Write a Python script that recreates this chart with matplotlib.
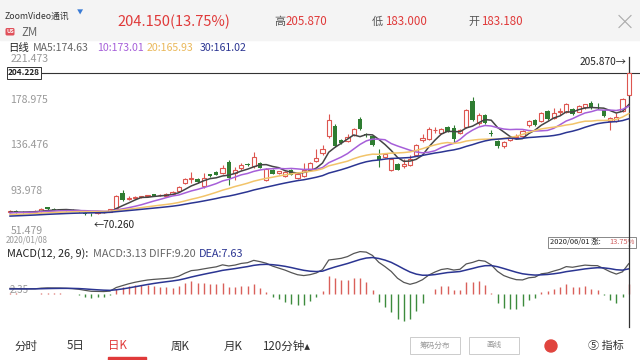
import numpy as np
import pandas as pd
import matplotlib
matplotlib.use('Agg')
import matplotlib.pyplot as plt
from matplotlib.patches import Rectangle, FancyBboxPatch, Circle

plt.rcParams['font.family'] = ['Noto Sans CJK SC', 'DejaVu Sans']

# daily candles, 2020/01/08 .. 2020/06/01
opens = [74.3, 75.4, 74.6, 74.0, 74.8, 74.9, 78.6, 77.4, 77.0, 76.5,
         76.3, 76.0, 73.4, 72.6, 73.2, 74.0, 74.8, 77.8, 92.0, 86.6,
         87.3, 88.4, 89.1, 91.0, 89.8, 89.4, 91.2, 94.3, 101.3, 104.8,
         105.0, 98.3, 109.6, 111.8, 110.8, 121.5, 110.8, 115.0, 119.6, 117.0,
         120.2, 104.6, 114.0, 110.4, 107.6, 113.9, 106.0, 107.6, 113.2, 122.0,
         129.5, 145.0, 154.5, 141.4, 141.0, 146.5, 160.8, 147.0, 145.2, 126.5,
         125.3, 114.0, 119.0, 116.9, 118.5, 127.8, 141.7, 142.5, 150.6, 148.0,
         154.0, 152.4, 148.0, 154.2, 177.8, 157.5, 165.4, 148.5, 140.8, 135.6,
         141.8, 144.0, 145.8, 155.2, 160.7, 159.5, 168.5, 162.1, 168.2, 167.7,
         170.4, 168.2, 172.0, 176.3, 173.8, 169.4, 158.9, 159.5, 168.9, 183.18]
highs = [76.0, 75.8, 75.2, 75.5, 76.0, 78.2, 79.3, 77.9, 77.5, 77.2,
         76.8, 76.4, 74.0, 73.2, 75.6, 75.2, 77.6, 89.8, 94.5, 89.0,
         89.2, 89.6, 90.5, 91.5, 90.9, 92.2, 93.6, 98.5, 106.0, 111.8,
         106.0, 111.0, 110.3, 112.5, 118.0, 122.8, 116.7, 119.8, 120.5, 130.5,
         121.0, 115.8, 114.8, 113.0, 112.6, 114.6, 110.4, 120.0, 120.8, 133.5,
         136.8, 166.0, 157.0, 142.5, 146.8, 153.0, 162.8, 148.5, 146.5, 133.5,
         129.8, 125.0, 120.0, 124.0, 127.4, 137.5, 147.0, 153.5, 154.0, 153.2,
         155.0, 155.5, 151.8, 170.5, 181.5, 166.5, 166.0, 151.0, 141.5, 140.8,
         145.0, 147.0, 150.5, 160.0, 161.5, 168.0, 169.5, 171.6, 171.2, 175.8,
         171.5, 174.0, 175.5, 177.8, 175.8, 170.0, 163.5, 167.0, 180.5, 205.87]
lows = [73.5, 73.5, 73.3, 73.6, 74.2, 74.5, 76.5, 75.8, 75.9, 75.7,
        75.2, 74.1, 72.0, 70.26, 72.8, 73.5, 74.3, 77.2, 85.0, 86.0,
        86.8, 87.9, 88.6, 89.2, 89.3, 89.0, 90.8, 94.0, 100.5, 101.6,
        101.8, 96.8, 106.8, 108.5, 110.2, 99.8, 104.3, 114.0, 117.2, 115.8,
        115.0, 103.5, 109.5, 109.6, 107.0, 108.6, 105.2, 107.0, 112.5, 121.2,
        127.8, 143.2, 135.5, 137.8, 139.8, 145.5, 151.0, 144.5, 136.0, 116.5,
        124.5, 113.0, 113.2, 115.4, 117.6, 127.0, 140.0, 141.5, 148.0, 147.5,
        149.0, 138.6, 147.0, 153.0, 159.5, 156.0, 156.5, 145.0, 134.5, 133.8,
        141.0, 143.0, 145.0, 154.0, 155.0, 158.5, 160.5, 161.0, 165.0, 167.0,
        165.0, 167.5, 171.0, 170.8, 170.5, 163.5, 151.0, 158.5, 168.0, 183.0]
closes = [75.0, 74.0, 73.9, 74.8, 75.2, 77.6, 77.0, 76.2, 76.4, 76.1,
          75.7, 74.5, 72.6, 72.3, 74.8, 74.7, 77.0, 89.0, 86.0, 87.6,
          88.3, 88.9, 89.8, 89.7, 90.2, 91.2, 92.9, 97.8, 105.2, 106.4,
          102.6, 105.8, 107.6, 109.2, 115.0, 106.2, 114.0, 118.7, 118.0, 125.8,
          115.8, 114.8, 110.2, 112.2, 111.8, 109.3, 109.6, 113.4, 120.0, 124.5,
          133.0, 160.0, 136.4, 138.8, 144.2, 152.3, 152.0, 146.3, 137.2, 123.2,
          128.3, 124.0, 114.0, 119.0, 124.3, 136.6, 143.1, 152.3, 151.2, 152.3,
          149.5, 142.6, 150.7, 169.4, 160.6, 165.4, 157.5, 147.6, 135.6, 139.8,
          144.2, 145.0, 149.8, 159.2, 155.9, 167.2, 161.4, 167.2, 168.9, 175.0,
          165.8, 173.0, 174.8, 171.4, 173.3, 164.3, 162.0, 163.2, 179.48, 204.15]
# closes before the window, only used so the averages start where the picture shows
prior_closes = [66.5, 67.0, 66.8, 67.5, 68.0, 67.6, 68.3, 68.9, 68.5, 69.0,
                69.4, 68.8, 69.6, 70.2, 69.8, 70.5, 71.0, 70.6, 71.4, 72.0,
                71.6, 72.3, 72.9, 73.5, 73.0, 73.8, 74.2, 73.9, 74.4]

price_ticks = [221.473, 178.975, 136.476, 93.978, 51.479]
ma_periods = [5, 10, 20, 30]
ma_labels = ['MA5:174.63', '10:173.01', '20:165.93', '30:161.02']
cross_price = 204.228

RED = '#dd5650'
GREEN = '#2f7d32'
GRAY = '#999999'
MA_COLORS = ['#444444', '#a65fd9', '#f2c46a', '#2b3592']
MA_TEXT = ['#666666', '#a65fd9', '#eab85a', '#2b3592']

o = np.array(opens); h = np.array(highs); l = np.array(lows); c = np.array(closes)
n = len(c)
x = np.arange(n)
allc = pd.Series(prior_closes + closes)
k = len(prior_closes)

fig = plt.figure(figsize=(6.4, 3.6), dpi=100)

# overlay in pixel units for the app chrome
ov = fig.add_axes([0, 0, 1, 1])
ov.set_xlim(0, 640)
ov.set_ylim(360, 0)
ov.axis('off')
ov.add_patch(Rectangle((0, 0), 640, 40, color='#f4f4f4', zorder=0))


def px_ax(y0, y1):
    return [4 / 640, 1 - y1 / 360, 632 / 640, (y1 - y0) / 360]


ax = fig.add_axes(px_ax(54.5, 236.5))
ax.set_facecolor('none')
ax.set_xlim((4 - 10) / 6.25, (636 - 10) / 6.25)
ax.set_ylim(price_ticks[-1], price_ticks[0])
ax.axis('off')

up = c >= o
body_lo = np.minimum(o, c)
body_h = np.maximum(np.abs(c - o), 0.4)
ax.vlines(x[up], l[up], h[up], color=RED, lw=0.8, zorder=2)
ax.bar(x[up], body_h[up], bottom=body_lo[up], width=0.68, facecolor='white',
       edgecolor=RED, lw=0.8, zorder=3)
ax.vlines(x[~up], l[~up], h[~up], color=GREEN, lw=0.8, zorder=2)
ax.bar(x[~up], body_h[~up], bottom=body_lo[~up], width=0.68, color=GREEN, zorder=3)

for p, col in zip(ma_periods, MA_COLORS):
    ma = allc.rolling(p, min_periods=1).mean().values[k:]
    ax.plot(x, ma, color=col, lw=1.1, zorder=4)

for i, t in enumerate(price_ticks):
    va = 'top' if i == 0 else ('bottom' if i == len(price_ticks) - 1 else 'center')
    ax.text(0.01, t, '%.3f' % t, transform=ax.get_yaxis_transform(), color=GRAY,
            fontsize=7.6, va=va, ha='left')

# crosshair
ax.axhline(cross_price, xmin=0.06, xmax=1.01, color='#333333', lw=0.8, clip_on=False)
ax.text(0.006, cross_price, '%.3f' % cross_price, transform=ax.get_yaxis_transform(),
        fontsize=6, color='#222222', va='center', ha='left', fontweight='bold',
        bbox=dict(boxstyle='square,pad=0.15', fc='white', ec='#333333', lw=0.7))
ax.axvline(n - 1, ymin=-0.05, ymax=0.985, color='#333333', lw=0.9, clip_on=False)

hi_i = int(np.argmax(h)); lo_i = int(np.argmin(l))
ax.annotate('%.3f→' % h[hi_i], xy=(hi_i, h[hi_i]), xytext=(-2, 6.5), textcoords='offset points',
            ha='right', va='center', fontsize=7.3, color='#222222')
ax.annotate('←%.3f' % l[lo_i], xy=(lo_i, l[lo_i]), xytext=(2, -6.2), textcoords='offset points',
            ha='left', va='center', fontsize=7.3, color='#222222')

# MACD pane
ema12 = allc.ewm(span=12, adjust=False).mean()
ema26 = allc.ewm(span=26, adjust=False).mean()
dif = (ema12 - ema26).values[k:]
dea = pd.Series(ema12 - ema26).ewm(span=9, adjust=False).mean().values[k:]
hist = 2 * (dif - dea)

mx = fig.add_axes(px_ax(245, 325))
mx.set_facecolor('none')
mx.set_xlim(ax.get_xlim())
mx.set_ylim(-31 / 3.37, 49 / 3.37)
mx.axis('off')
mx.vlines(x, 0, hist, colors=np.where(hist >= 0, '#d9605a', '#3d8b3d'), lw=1.0)
mx.plot(x, dif, color='#555555', lw=0.9)
mx.plot(x, dea, color='#2b3592', lw=1.1)
mx.axvline(n - 1, ymin=-0.03, ymax=1.0, color='#333333', lw=0.9, clip_on=False)

# header
ov.text(5, 16, 'ZoomVideo通讯', fontsize=6.3, color='#333333', va='center')
ov.text(77, 13, '▼', fontsize=4.5, color='#3a7bd5', va='center')
ov.text(117, 21.5, '204.150(13.75%)', fontsize=10.5, color='#e03a3a', va='center')
ov.text(274, 21.5, '高', fontsize=8, color='#555555', va='center')
ov.text(286, 21.5, '205.870', fontsize=8.3, color='#e03a3a', va='center')
ov.text(372, 21.5, '低', fontsize=8, color='#555555', va='center')
ov.text(385, 21.5, '183.000', fontsize=8.3, color='#e03a3a', va='center')
ov.text(468, 21.5, '开', fontsize=8, color='#555555', va='center')
ov.text(481, 21.5, '183.180', fontsize=8.3, color='#e03a3a', va='center')
ov.plot([619, 631], [15.5, 27.5], color='#aaaaaa', lw=0.8)
ov.plot([619, 631], [27.5, 15.5], color='#aaaaaa', lw=0.8)
ov.add_patch(FancyBboxPatch((5.5, 28), 9, 7.5, boxstyle='round,pad=0,rounding_size=1.5',
                            fc='#e0505a', ec='none'))
ov.text(10, 31.8, 'US', fontsize=4, color='white', ha='center', va='center', fontweight='bold')
ov.text(21, 32, 'ZM', fontsize=8.3, color='#666666', va='center')

ov.text(8, 48, '日线', fontsize=7.5, color='#222222', va='center')
for txt, xp, col in zip(ma_labels, [33, 97, 147, 200], MA_TEXT):
    ov.text(xp, 48, txt, fontsize=7.6, color=col, va='center')

ov.text(6, 240, '2020/01/08', fontsize=5.8, color=GRAY, va='center')
ov.text(7, 254, 'MACD(12, 26, 9):', fontsize=7.8, color='#222222', va='center')
ov.text(93, 254, 'MACD:3.13 DIFF:9.20', fontsize=7.8, color='#666666', va='center')
ov.text(199, 254, 'DEA:7.63', fontsize=7.8, color='#2b3592', va='center')
ov.text(10, 290, '2.35', fontsize=7, color=GRAY, va='center')

ov.add_patch(Rectangle((548, 236.5), 88, 11, fc='white', ec='#888888', lw=0.7, zorder=5))
ov.text(550.5, 242, '2020/06/01 涨:', fontsize=5.4, color='#222222', va='center', zorder=6)
ov.text(634.5, 242, '13.75%', fontsize=5.4, color='#d06060', va='center', ha='right', zorder=6)

# bottom tabs
for txt, xp, col in [('分时', 14, '#333333'), ('5日', 67, '#333333'), ('日K', 108, '#e03a3a'),
                     ('周K', 171, '#333333'), ('月K', 224, '#333333'), ('120分钟▴', 262, '#333333')]:
    ov.text(xp, 346, txt, fontsize=8.3, color=col, va='center')
ov.add_patch(Rectangle((108, 357), 38, 3, color='#e03a3a'))
for txt, x0, w in [('筹码分布', 410, 50), ('画线', 469, 50)]:
    ov.add_patch(Rectangle((x0, 337), w, 17, fc='white', ec='#cccccc', lw=0.7))
    ov.text(x0 + w / 2, 345.5, txt, fontsize=5.5, color='#999999', ha='center', va='center')
ov.add_patch(Circle((551, 346), 6, color='#e0443e'))
ov.text(588, 346, '⑤ 指标', fontsize=8, color='#333333', va='center')

fig.savefig('out.png', dpi=100)
